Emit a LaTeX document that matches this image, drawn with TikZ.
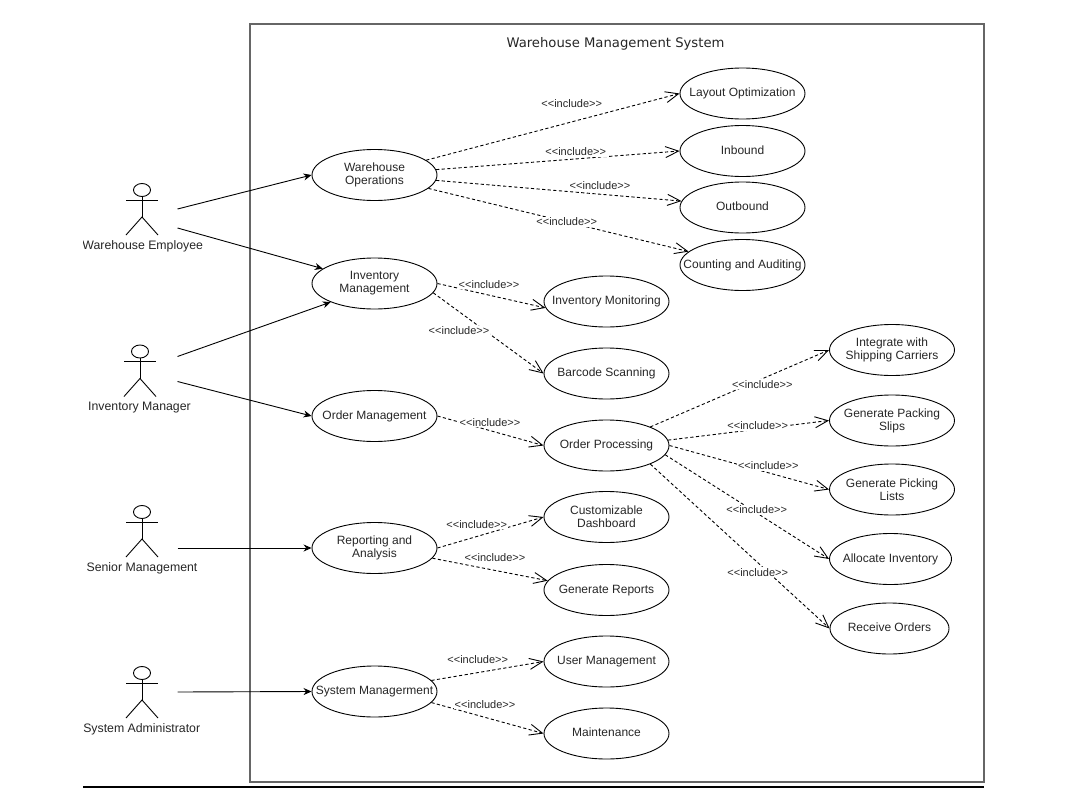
\documentclass[tikz,border=0pt]{standalone}
\usepackage{fontspec}
\setmainfont{Liberation Sans}
\newfontfamily\titlefont{DejaVu Sans}
\usetikzlibrary{arrows.meta,shapes.geometric}

\tikzset{
    usecase/.style={draw,ellipse,line width=0.9pt,inner xsep=-30pt,inner ysep=-5pt,minimum width=125pt,minimum height=51pt,align=center,text=black!85,font=\fontsize{12}{13}\selectfont},
    oneline/.style={usecase,text height=8.6pt,text depth=2.6pt},
    actorname/.style={inner sep=0pt,text=black!85,font=\fontsize{12.3}{13}\selectfont},
    inclabel/.style={fill=white,inner sep=1pt,text=black!85,font=\fontsize{11}{11}\selectfont},
    assoc/.style={line width=0.9pt,-{Stealth[length=8pt,width=7pt]}},
    incl/.style={line width=0.9pt,dash pattern=on 3.2pt off 2.4pt,-{Straight Barb[length=13pt,width=11pt]}},
    pics/stickman/.style={code={
        \draw[line width=0.9pt] (0,-10) circle[x radius=8.5,y radius=6.5];
        \draw[line width=0.9pt] (0,-3.5) -- (0,17) (-16,0) -- (16,0);
        \draw[line width=0.9pt] (-16,35) -- (0,17) -- (16,35);
    }},
}

\begin{document}
\begin{tikzpicture}[x=1pt,y=-1pt]
    \useasboundingbox (0,0) rectangle (1092,792);

    % system boundary
    \draw[line width=1.4pt,draw=black!60] (250,24) rectangle (984,782);
    \draw[line width=2pt] (83,786.5) -- (984,786.5);
    \node[text=black!85,font=\titlefont\fontsize{13.2}{15}\selectfont] (title) at (615.5,44) {Warehouse Management System};

    % actors
    \pic at (142,200) {stickman};
    \pic at (140,361.5) {stickman};
    \pic at (142,522) {stickman};
    \pic at (142,683) {stickman};
    \begin{scope}
        \clip (83,230) rectangle (250,260);
        \node[actorname] (nameWE) at (142.7,246.8) {Warehouse Employee};
    \end{scope}
    \node[actorname] (nameIM) at (139.5,407.8) {Inventory Manager};
    \node[actorname] (nameSM) at (142,568) {Senior Management};
    \node[actorname] (nameSA) at (141.7,729.5) {System Administrator};

    % free ends of the actor lines
    \coordinate (WE1) at (177.5,209);
    \coordinate (WE2) at (177.5,228);
    \coordinate (IM1) at (177.5,356.5);
    \coordinate (IM2) at (177.5,381.5);
    \coordinate (SM1) at (177.5,548);
    \coordinate (SA1) at (177.5,692);

    % main use cases
    \node[usecase] (WO) at (374.5,175) {Warehouse\\Operations};
    \node[usecase] (InvM) at (374.5,283.5) {Inventory\\Management};
    \node[oneline] (OM) at (374.5,416) {Order Management};
    \node[usecase] (RA) at (374.5,548) {Reporting and\\Analysis};
    \node[oneline] (SysM) at (374.5,691.5) {System Managerment};

    % included use cases
    \node[oneline] (LO) at (742.5,93.5) {Layout Optimization};
    \node[oneline] (IB) at (742.5,151) {Inbound};
    \node[oneline] (OB) at (742.5,207.5) {Outbound};
    \node[oneline] (CA) at (742.5,265) {Counting and Auditing};
    \node[oneline] (IMon) at (606.5,301.5) {Inventory Monitoring};
    \node[oneline] (BS) at (606.5,373.5) {Barcode Scanning};
    \node[oneline] (OP) at (606.5,445.5) {Order Processing};
    \node[usecase] (CD) at (606.5,517) {Customizable\\Dashboard};
    \node[oneline] (GR) at (606.5,590) {Generate Reports};
    \node[oneline] (UM) at (606.5,661.5) {User Management};
    \node[oneline] (MT) at (606.5,733.5) {Maintenance};
    \node[usecase] (SC) at (892,350) {Integrate with\\Shipping Carriers};
    \node[usecase] (PS) at (892,420.5) {Generate Packing\\Slips};
    \node[usecase] (PL) at (892,489.5) {Generate Picking\\Lists};
    \node[oneline,minimum width=122pt] (AI) at (890.5,559) {Allocate Inventory};
    \node[oneline,minimum width=119pt] (RO) at (889.5,628.5) {Receive Orders};

    % actor lines
    \draw[assoc] (WE1) -- (WO.west);
    \draw[assoc] (WE2) -- (InvM.164);
    \draw[assoc] (IM1) -- (InvM.203);
    \draw[assoc] (IM2) -- (OM.west);
    \draw[assoc] (SM1) -- (RA.west);
    \draw[assoc] (SA1) -- (SysM.west);

    % include lines
    \draw[incl] (WO.16) -- (LO.west);
    \draw[incl] (WO.5) -- (IB.west);
    \draw[incl] (WO.-5) -- (OB.174);
    \draw[incl] (WO.-14) -- (CA.166);
    \draw[incl] (InvM.east) -- (IMon.186);
    \draw[incl] (InvM.-9) -- (BS.west);
    \draw[incl] (OM.east) -- (OP.west);
    \draw[incl] (OP.23) -- (SC.west);
    \draw[incl] (OP.5) -- (PS.west);
    \draw[incl] (OP.east) -- (PL.west);
    \draw[incl] (OP.-9) -- (AI.west);
    \draw[incl] (OP.-23) -- (RO.west);
    \draw[incl] (RA.east) -- (CD.west);
    \draw[incl] (RA.-10) -- (GR.171);
    \draw[incl] (SysM.11) -- (UM.west);
    \draw[incl] (SysM.-11) -- (MT.west);

    % include labels
    \node[inclabel] (L1) at (571.7,104) {<{}<include>{}>};
    \node[inclabel] (L2) at (575.7,152) {<{}<include>{}>};
    \node[inclabel] (L3) at (600,185.7) {<{}<include>{}>};
    \node[inclabel] (L4) at (566.7,222) {<{}<include>{}>};
    \node[inclabel] (L5) at (489,284.3) {<{}<include>{}>};
    \node[inclabel] (L6) at (459,331) {<{}<include>{}>};
    \node[inclabel] (L7) at (490,422.3) {<{}<include>{}>};
    \node[inclabel] (L8) at (762.3,384.3) {<{}<include>{}>};
    \node[inclabel] (L9) at (757.7,425.7) {<{}<include>{}>};
    \node[inclabel] (L10) at (768.3,465.7) {<{}<include>{}>};
    \node[inclabel] (L11) at (756.7,510) {<{}<include>{}>};
    \node[inclabel] (L12) at (757.7,572.3) {<{}<include>{}>};
    \node[inclabel] (L13) at (476.7,524.3) {<{}<include>{}>};
    \node[inclabel] (L14) at (495,557.7) {<{}<include>{}>};
    \node[inclabel] (L15) at (477.7,660) {<{}<include>{}>};
    \node[inclabel] (L16) at (485,704.3) {<{}<include>{}>};
\end{tikzpicture}
\end{document}
